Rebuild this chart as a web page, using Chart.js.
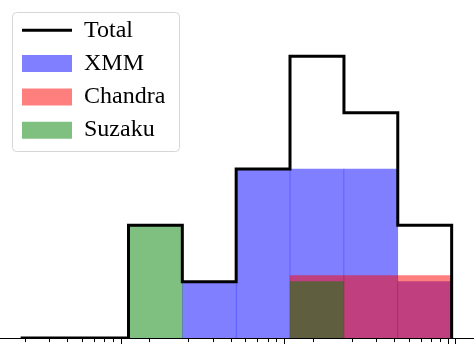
<!DOCTYPE html>
<html>
<head>
<meta charset="utf-8">
<script src="https://cdn.jsdelivr.net/npm/chart.js@4.4.1/dist/chart.umd.min.js"></script>
<style>
  html, body { margin: 0; padding: 0; background: #fff; }
  #wrap { width: 474px; height: 344px; position: relative; }
</style>
</head>
<body>
<div id="wrap"><canvas id="hist"></canvas></div>
<script>
// histogram bins on a log axis (edges), counts per bin
var binEdges = [0.023, 0.049, 0.105, 0.224, 0.478, 1.02, 2.18, 4.65, 9.93];
var totalCounts = [0, 0, 2, 1, 3, 5, 4, 2];
var xmmCounts = [0, 0, 0, 1, 3, 3, 3, 1];
var chandraCounts = [0, 0, 0, 0, 0, 1.11, 1.11, 1.11];
var suzakuCounts = [0, 0, 2, 0, 0, 1, 0, 0];
var decades = [0.01, 0.1, 1, 10];
var xMin = 0.0172, xMax = 13.6;

function barPoints(counts) {
    var pts = [];
    for (var i = 0; i < counts.length; i++) {
        if (counts[i] > 0) {
            pts.push({ x: Math.sqrt(binEdges[i] * binEdges[i + 1]), y: counts[i] });
        }
    }
    return pts;
}

function stepPoints(counts) {
    var pts = [];
    for (var i = 0; i < counts.length; i++) {
        pts.push({ x: binEdges[i], y: counts[i] });
    }
    var last = binEdges[binEdges.length - 1];
    pts.push({ x: last, y: counts[counts.length - 1] });
    pts.push({ x: last, y: 0 });
    return pts;
}

// white legend frame + legend placement inside the axes
var legendFrame = {
    id: 'legendFrame',
    afterLayout: function(chart) {
        chart.legend.left = 12.7;
        chart.legend.top = 9;
    },
    beforeDraw: function(chart) {
        var c = chart.ctx;
        c.save();
        c.beginPath();
        c.roundRect(12.5, 12.5, 167, 139, 4);
        c.fillStyle = 'rgba(255,255,255,0.8)';
        c.fill();
        c.strokeStyle = '#d6d6d6';
        c.lineWidth = 1;
        c.stroke();
        c.restore();
    }
};

var ctx = document.getElementById('hist').getContext('2d');
var chart = new Chart(ctx, {
    type: 'bar',
    data: {
        datasets: [{
            type: 'line',
            label: 'Total',
            data: stepPoints(totalCounts),
            stepped: 'before',
            borderColor: '#000',
            backgroundColor: '#000',
            borderWidth: 3,
            borderJoinStyle: 'miter',
            pointRadius: 0,
            fill: false,
            order: 0
        }, {
            label: 'XMM',
            data: barPoints(xmmCounts),
            backgroundColor: 'rgba(0, 0, 255, 0.5)',
            borderWidth: 0,
            order: 3
        }, {
            label: 'Chandra',
            data: barPoints(chandraCounts),
            backgroundColor: 'rgba(255, 0, 0, 0.5)',
            borderWidth: 0,
            order: 2
        }, {
            label: 'Suzaku',
            data: barPoints(suzakuCounts),
            backgroundColor: 'rgba(0, 128, 0, 0.5)',
            borderWidth: 0,
            order: 1
        }]
    },
    options: {
        responsive: true,
        maintainAspectRatio: false,
        animation: false,
        events: [],
        layout: { padding: 0 },
        datasets: {
            bar: { grouped: false, categoryPercentage: 1, barPercentage: 1 }
        },
        scales: {
            x: {
                type: 'logarithmic',
                min: xMin,
                max: xMax,
                offset: false,
                display: false,
                afterBuildTicks: function(scale) {
                    scale.ticks = binEdges.map(function(v) { return { value: v }; });
                }
            },
            x2: {
                type: 'logarithmic',
                position: 'bottom',
                min: xMin,
                max: xMax,
                offset: false,
                afterBuildTicks: function(scale) {
                    var t = [];
                    decades.forEach(function(d) {
                        for (var k = 1; k < 10; k++) {
                            var v = k * d;
                            if (v >= xMin && v <= xMax) t.push({ value: v, major: k === 1 });
                        }
                    });
                    scale.ticks = t;
                },
                border: { display: true, color: '#000', width: 1 },
                grid: {
                    drawOnChartArea: false,
                    drawTicks: true,
                    tickLength: 6,
                    tickColor: '#000',
                    tickWidth: 1,
                    tickBorderDash: function(c) {
                        if (!c.tick) return [];
                        var lg = Math.log10(c.tick.value);
                        return Math.abs(lg - Math.round(lg)) < 1e-6 ? [] : [3, 20];
                    }
                },
                ticks: { display: false }
            },
            y: {
                type: 'linear',
                min: 0,
                max: 6,
                display: false
            }
        },
        plugins: {
            tooltip: { enabled: false },
            legend: {
                position: 'chartArea',
                align: 'start',
                labels: {
                    usePointStyle: true,
                    pointStyleWidth: 50,
                    boxHeight: 17,
                    padding: 9.3,
                    color: '#000',
                    font: { family: "'Liberation Serif', serif", size: 24 },
                    generateLabels: function(chart) {
                        var items = Chart.defaults.plugins.legend.labels.generateLabels(chart);
                        items.forEach(function(it) {
                            var ds = chart.data.datasets[it.datasetIndex];
                            it.pointStyle = ds.type === 'line' ? 'line' : 'rect';
                        });
                        return items.sort(function(a, b) { return a.datasetIndex - b.datasetIndex; });
                    }
                }
            }
        }
    },
    plugins: [legendFrame]
});
</script>
</body>
</html>
